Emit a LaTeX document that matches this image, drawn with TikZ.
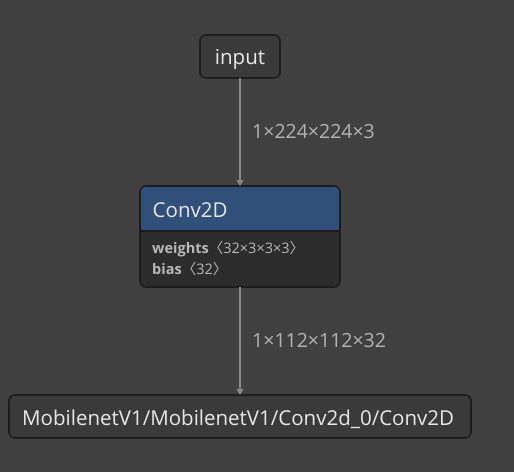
\documentclass[tikz,border=0pt]{standalone}
\usepackage{fontspec}
\setmainfont{Open Sans}
\newfontfamily\cjkfont{Noto Sans CJK SC}
\usetikzlibrary{arrows.meta}
\definecolor{bg}{HTML}{404040}
\definecolor{nodefill}{HTML}{3A3A3A}
\definecolor{nodeborder}{HTML}{1C1C1C}
\definecolor{hdr}{HTML}{30507A}
\definecolor{bodyfill}{HTML}{2C2C2C}
\definecolor{edgecol}{HTML}{888888}
\definecolor{lblcol}{HTML}{B4B4B4}
\definecolor{txtcol}{HTML}{E8E8E8}
\definecolor{attrcol}{HTML}{B8B8B8}
\newcommand{\lab}{{\cjkfont 〈}}
\newcommand{\rab}{{\cjkfont 〉}}
\tikzset{
  box/.style={draw=nodeborder, line width=1.6pt, rounded corners=6pt, fill=nodefill},
  boxtext/.style={text=txtcol, font=\fontsize{20.5}{24}\selectfont, inner sep=0pt, anchor=base west},
  edge/.style={draw=edgecol, line width=1.3pt, -{Triangle[width=7pt,length=6pt]}},
  elabel/.style={text=lblcol, font=\fontsize{19.5}{23}\selectfont, inner sep=0pt, anchor=base west},
  attr/.style={text=attrcol, font=\fontsize{14.5}{17}\selectfont, inner sep=0pt, anchor=base west},
}
\begin{document}
\begin{tikzpicture}[x=1pt,y=-1pt]
\fill[bg] (0,0) rectangle (514,472);
\useasboundingbox (0,0) rectangle (514,472);
% input node
\path[box] (200,35) rectangle (280,78);
\coordinate (inB) at (240,78);
\node[boxtext, anchor=base] (input) at (240,64.5) {input};
% conv node
\fill[bodyfill, rounded corners=6pt] (140,186) rectangle (340,287);
\fill[hdr, rounded corners=6pt] (140,231) -- (140,186) -- (340,186) -- (340,231) -- cycle;
\draw[nodeborder, line width=1.2pt] (140,231) -- (340,231);
\draw[nodeborder, line width=1.6pt, rounded corners=6pt] (140,186) rectangle (340,287);
\coordinate (convT) at (240,186);
\coordinate (convB) at (240,287);
\node[boxtext] (conv) at (152.5,217) {Conv2D};
\node[attr] (w) at (152,253) {\textbf{weights}\lab32×3×3×3\rab};
\node[attr] (b) at (152,274.5) {\textbf{bias}\lab32\rab};
% output node
\path[box] (9,395) rectangle (471,438);
\coordinate (outT) at (240,395);
\node[boxtext] (out) at (22,425) {MobilenetV1/MobilenetV1/Conv2d\_0/Conv2D};
% edges
\draw[edge] (inB) -- (convT);
\node[elabel] (l1) at (252,138) {1×224×224×3};
\draw[edge] (convB) -- (outT);
\node[elabel] (l2) at (252,347) {1×112×112×32};
\end{tikzpicture}
\end{document}
